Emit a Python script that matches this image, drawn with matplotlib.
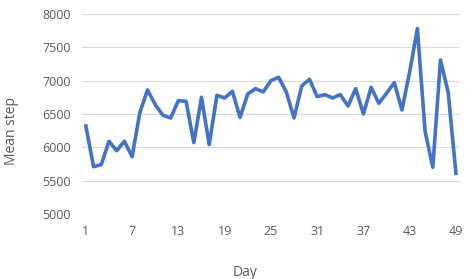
import matplotlib
matplotlib.use('Agg')
from matplotlib import pyplot as plt

days = list(range(1, 50))
mean_step = [6320, 5710, 5740, 6090, 5950, 6090, 5860, 6520, 6860, 6640,
             6480, 6440, 6700, 6690, 6070, 6750, 6040, 6780, 6740, 6840,
             6450, 6800, 6880, 6830, 7000, 7050, 6830, 6440, 6920, 7020,
             6760, 6790, 6740, 6790, 6620, 6880, 6500, 6900, 6660, 6810,
             6970, 6560, 7130, 7780, 6240, 5700, 7310, 6820, 5610]
x_ticks = [1, 7, 13, 19, 25, 31, 37, 43, 49]
y_ticks = [5000, 5500, 6000, 6500, 7000, 7500, 8000]

plt.rcParams['font.family'] = ['Open Sans', 'DejaVu Sans']

fig = plt.figure(figsize=(4.74, 2.79), dpi=100)
ax = fig.add_axes([0.173, 0.233, 0.797, 0.717])

ax.plot(days, mean_step, color='#4472C4', linewidth=2.6, solid_joinstyle='round')

ax.set_xlim(0.5, 49.5)
ax.set_ylim(5000, 8000)
ax.set_xticks(x_ticks)
ax.set_yticks(y_ticks)
ax.grid(axis='y', color='#D9D9D9', linewidth=0.8)
ax.set_axisbelow(True)
for s in ax.spines.values():
    s.set_visible(False)
ax.tick_params(length=0, labelsize=9, labelcolor='#595959', pad=8)

ax.set_xlabel('Day', fontsize=10, color='#595959')
ax.set_ylabel('Mean step', fontsize=10, color='#595959')
ax.xaxis.set_label_coords(0.431, -0.255)
ax.yaxis.set_label_coords(-0.168, 0.415)

plt.savefig('out.png', dpi=100)
